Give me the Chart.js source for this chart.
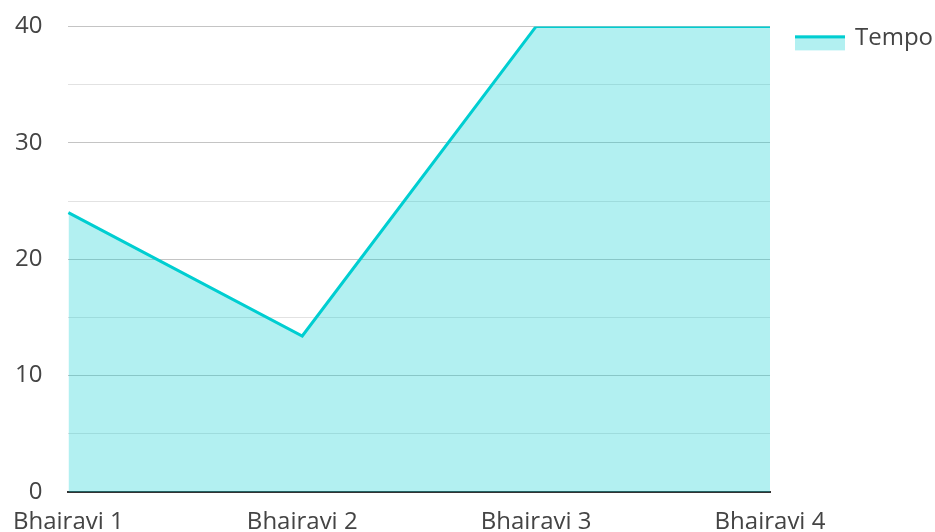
<!DOCTYPE html>
<html>
<head>
<meta charset="utf-8">
<script src="https://cdn.jsdelivr.net/npm/chart.js@4"></script>
<style>
  html, body { margin: 0; padding: 0; background: #fff; overflow: hidden; }
  #wrap { width: 938px; height: 554px; position: relative; margin-top: -14px; margin-left: -3px; }
</style>
</head>
<body>
<div id="wrap"><canvas id="myChart"></canvas></div>
<script>
// 데이터
const labels = ["Bhairavi 1", "Bhairavi 2", "Bhairavi 3", "Bhairavi 4"];
const tempo = [24, 13.4, 40, 40];
const seriesName = "Tempo";

const lineColor = "#00CED1";
const fillColor = "rgba(0, 206, 209, 0.3)";
const textColor = "#444444";

// 오른쪽 범례 (선 + 채움 상자)
const sideLegend = {
  id: "sideLegend",
  afterDraw(chart) {
    const ctx = chart.ctx;
    const x = chart.chartArea.right + 25;
    const y = chart.chartArea.top + 9;
    ctx.save();
    ctx.fillStyle = fillColor;
    ctx.fillRect(x, y, 50, 15);
    ctx.fillStyle = lineColor;
    ctx.fillRect(x, y, 50, 3);
    ctx.fillStyle = textColor;
    ctx.font = "24px 'Open Sans'";
    ctx.textBaseline = "middle";
    ctx.fillText(chart.data.datasets[0].label, x + 60, y + 3);
    ctx.restore();
  }
};

const ctx = document.getElementById("myChart").getContext("2d");
const myChart = new Chart(ctx, {
  type: "line",
  data: {
    labels: labels,
    datasets: [{
      label: seriesName,
      data: tempo,
      borderColor: lineColor,
      backgroundColor: fillColor,
      borderWidth: 3,
      fill: "origin",
      pointRadius: 0,
      tension: 0
    }]
  },
  options: {
    responsive: true,
    maintainAspectRatio: false,
    animation: false,
    layout: { padding: { top: 12, right: 165, bottom: 0, left: 0 } },
    plugins: {
      legend: { display: false },
      tooltip: { enabled: false }
    },
    scales: {
      x: {
        grid: { display: false, drawTicks: false },
        border: { display: true, color: "#333333", width: 2 },
        ticks: {
          color: textColor,
          font: { family: "'Open Sans'", size: 24 },
          padding: 16,
          maxRotation: 0,
          autoSkip: false
        },
        afterFit(scale) { scale.height = 48; }
      },
      y: {
        min: 0,
        max: 40,
        border: { display: false },
        grid: {
          drawTicks: false,
          color: (c) => (c.tick && c.tick.value % 10 === 0) ? "#c4c4c4" : "#e2e2e2"
        },
        ticks: {
          stepSize: 5,
          color: textColor,
          font: { family: "'Open Sans'", size: 24 },
          padding: 26,
          callback: (v) => (v % 10 === 0 ? v : "")
        },
        afterFit(scale) { scale.width = 68; }
      }
    }
  },
  plugins: [sideLegend]
});
</script>
</body>
</html>
